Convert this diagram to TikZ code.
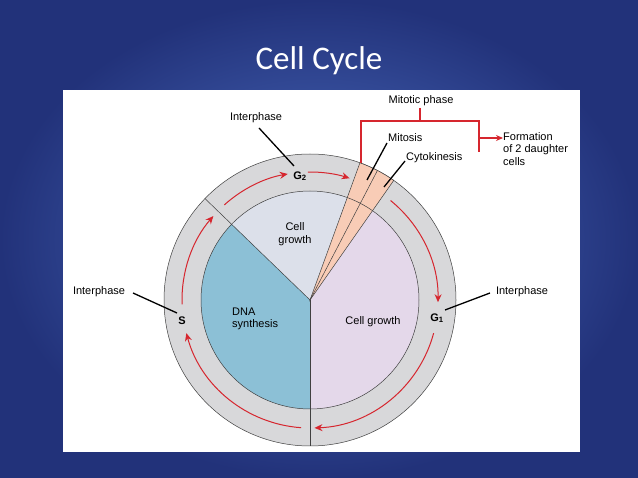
\documentclass[tikz,border=0pt]{standalone}
\usepackage{fontspec}
\setmainfont{Liberation Sans}
\newfontfamily\titlefont{Carlito}
\usetikzlibrary{arrows.meta}
\definecolor{bgin}{RGB}{78,112,196}
\definecolor{bgout}{RGB}{34,50,122}
\definecolor{ring}{RGB}{216,216,218}
\definecolor{dna}{RGB}{140,192,214}
\definecolor{gtwo}{RGB}{220,224,234}
\definecolor{gone}{RGB}{228,216,234}
\definecolor{mito}{RGB}{248,204,182}
\definecolor{redc}{RGB}{214,38,46}
\begin{document}
\begin{tikzpicture}[x=1pt,y=-1pt,
  lbl/.style={font=\fontsize{11}{12.5}\selectfont,inner sep=0pt},
  ph/.style={font=\fontsize{11}{12}\selectfont\bfseries,inner sep=0pt},
  ptr/.style={line width=1.3pt,black},
  rarr/.style={redc,line width=1pt,-{Stealth[length=8pt,width=7pt]}},
  edge/.style={line width=0.5pt,black!75}]
\shade[inner color=bgin,outer color=bgout] (0,0) rectangle (638,478);
\useasboundingbox (0,0) rectangle (638,478);
\node[text=white,font=\titlefont\fontsize{33}{34}\selectfont] (title) at (319,61) {Cell Cycle};
\fill[white] (63,90) rectangle (580,452);
\coordinate (C) at (310,300);
\fill[ring,draw=black!75,line width=0.5pt] (C) circle[radius=146pt];
\fill[gone] (C) -- ++(-90:109pt) arc[start angle=-90,end angle=55,radius=109pt] -- cycle;
\fill[gtwo] (C) -- ++(70:109pt) arc[start angle=70,end angle=136,radius=109pt] -- cycle;
\fill[dna] (C) -- ++(136:109pt) arc[start angle=136,end angle=270,radius=109pt] -- cycle;
\draw[edge] (C) circle[radius=109pt];
\fill[mito,draw=black!75,line width=0.5pt] (C) -- ++(55:146pt) arc[start angle=55,end angle=70,radius=146pt] -- cycle;
\draw[edge] (C) ++(55:109pt) arc[start angle=55,end angle=70,radius=109pt];
\draw[edge] (C) -- ++(62.5:146pt);
\draw[edge] (C) -- ++(136:146pt);
\draw[edge] (C) -- ++(-90:146pt);
\draw[rarr] (C) ++(91:128pt) arc[start angle=91,end angle=72,radius=128pt];
\draw[rarr] (C) ++(132:128pt) arc[start angle=132,end angle=100,radius=128pt];
\draw[rarr] (C) ++(182:128pt) arc[start angle=182,end angle=139,radius=128pt];
\draw[rarr] (C) ++(266:128pt) arc[start angle=266,end angle=195,radius=128pt];
\draw[rarr] (C) ++(-15:128pt) arc[start angle=-15,end angle=-88,radius=128pt];
\draw[rarr] (C) ++(51:128pt) arc[start angle=51,end angle=-1,radius=128pt];
\node[lbl,align=center] (cg2) at (295,234) {Cell\\growth};
\node[lbl,align=left,anchor=west] (dnas) at (232,319) {DNA\\synthesis};
\node[lbl] (cg1) at (373,322) {Cell growth};
\node[ph] (G2) at (300,176) {G\textsubscript{2}};
\node[ph] (S) at (182,321) {S};
\node[ph] (G1) at (437,318) {G\textsubscript{1}};
\node[lbl] (ip1) at (256,118) {Interphase};
\node[lbl] (ip2) at (99,292) {Interphase};
\node[lbl] (ip3) at (522,292) {Interphase};
\coordinate (p1) at (259,128); \coordinate (q1) at (294,166);
\coordinate (p2) at (133,293); \coordinate (q2) at (177,313);
\coordinate (p3) at (490,293); \coordinate (q3) at (445,310);
\draw[ptr] (p1) -- (q1);
\draw[ptr] (p2) -- (q2);
\draw[ptr] (p3) -- (q3);
\node[lbl] (mp) at (421,101) {Mitotic phase};
\draw[redc,line width=1.2pt] (420,108) -- (420,121);
\draw[redc,line width=1.2pt] (361,163) -- (361,121) -- (479,121) -- (479,152);
\coordinate (fa) at (479,138);
\node[lbl,align=left,anchor=north west] (form) at (503,132) {Formation\\of 2 daughter\\cells};
\draw[redc,line width=1.2pt,-{Stealth[length=7pt,width=6pt]}] (fa) -- (form.west |- fa);
\node[lbl,anchor=west] (mit) at (388,138) {Mitosis};
\node[lbl,anchor=west] (cyt) at (406,158) {Cytokinesis};
\coordinate (m1) at (367,180); \coordinate (c1) at (384,187);
\draw[ptr] (mit.west) ++(-1,5) -- (m1);
\draw[ptr] (cyt.west) ++(-1,3) -- (c1);
\end{tikzpicture}
\end{document}
